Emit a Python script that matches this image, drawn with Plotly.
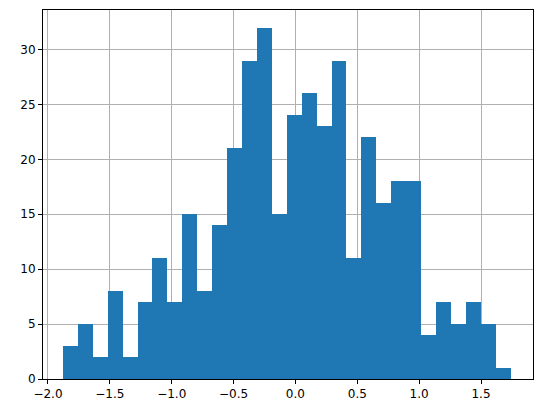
import plotly.graph_objects as go

counts = [3,5,2,8,2,7,11,7,15,8,14,21,29,32,15,24,26,23,29,11,22,16,18,18,4,7,5,7,5,1]
bin_start = -1.879
bin_width = 0.1206
x_ticks = [-2.0,-1.5,-1.0,-0.5,0.0,0.5,1.0,1.5]
y_ticks = [0,5,10,15,20,25,30]

centers = [bin_start + bin_width*(i+0.5) for i in range(len(counts))]

fig = go.Figure(go.Bar(x=centers, y=counts, width=bin_width, marker=dict(color="#1f77b4", line=dict(width=0))))
ax = dict(showgrid=True, gridcolor="#b0b0b0", gridwidth=0.8, layer="above traces", automargin=False,
          showline=True, linecolor="black", linewidth=1, mirror=True, ticks="outside",
          ticklen=4, tickcolor="black", zeroline=False, tickfont=dict(family="DejaVu Sans", size=12, color="black"))
fig.update_xaxes(**ax, range=[-2.04, 1.92], tickvals=x_ticks, ticktext=[f"{v:.1f}".replace("-", "−") for v in x_ticks])
fig.update_yaxes(**ax, range=[0, 33.6], tickvals=y_ticks)
fig.update_layout(width=543, height=413, margin=dict(l=43, r=10, t=10, b=34),
                  plot_bgcolor="white", paper_bgcolor="white", bargap=0, showlegend=False)
fig.write_html("out.html", config={"displayModeBar": False}, post_script="document.body.style.margin='0';")
